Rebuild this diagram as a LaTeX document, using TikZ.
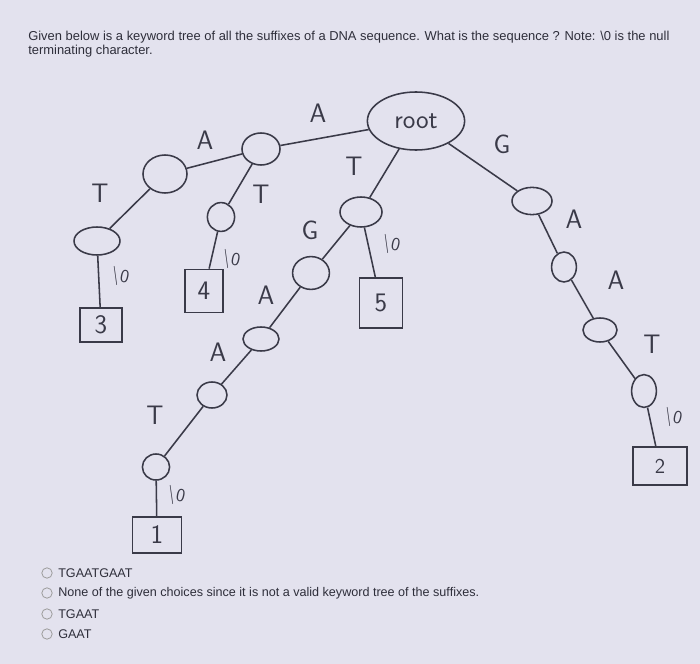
\documentclass[tikz,border=0pt]{standalone}
\usepackage{fontspec}
\newfontfamily\quizfont{Liberation Sans}
\usetikzlibrary{shapes.geometric}
\definecolor{bildschirm}{HTML}{E3E2EE}
\definecolor{stift}{HTML}{3A3A48}
\definecolor{schrift}{HTML}{2E2E3A}

\begin{document}
\begin{tikzpicture}[x=0.025cm, y=-0.025cm]

    % --- Grundeinstellungen für Styles ---
    \tikzset{
        knoten/.style={draw=stift, ellipse, line width=1.1pt, inner sep=0pt},
        blatt/.style={draw=stift, line width=1.1pt, inner sep=0pt, font=\sffamily\fontsize{19}{19}\selectfont, text=stift},
        kante/.style={draw=stift, line width=1.1pt},
        buchstabe/.style={font=\sffamily\fontsize{19}{19}\selectfont, text=stift},
        ende/.style={font=\sffamily\fontsize{13}{13}\selectfont, text=stift, rotate=-12, inner sep=0pt},
        frage/.style={font=\quizfont\fontsize{9.2}{10}\selectfont, text=schrift, anchor=west, inner sep=0pt},
        antwort/.style={frage, font=\quizfont\fontsize{8.95}{10}\selectfont},
        auswahl/.style={draw=gray!75, circle, line width=0.6pt, minimum size=0.26cm, inner sep=0pt}
    }

    % Hintergrund (Bildschirm)
    \fill[bildschirm] (0,0) rectangle (700,664);

    % --- 1. Fragetext ---
    \node[frage] (zeile1) at (28,37) {Given below is a keyword tree of all the suffixes of a DNA sequence. What is the sequence ? Note: \textbackslash0 is the null};
    \node[frage] (zeile2) at (28,51) {terminating character.};

    % --- 2. Knoten des Baums ---
    \node[knoten, minimum width=2.43cm, minimum height=1.45cm, font=\sffamily\fontsize{19}{19}\selectfont, text=stift] (root) at (416,121) {root};

    % Zweig A
    \node[knoten, minimum width=0.95cm, minimum height=0.8cm] (nA) at (261,149) {};
    \node[knoten, minimum width=1.1cm, minimum height=0.95cm] (nAA) at (165,174) {};
    \node[knoten, minimum width=1.15cm, minimum height=0.7cm] (nAAT) at (97,241) {};
    \node[knoten, minimum width=0.68cm, minimum height=0.72cm] (nAT) at (221,217) {};

    % Zweig T
    \node[knoten, minimum width=1.05cm, minimum height=0.75cm] (nT) at (361,212) {};
    \node[knoten, minimum width=0.92cm, minimum height=0.82cm] (nTG) at (311,273) {};
    \node[knoten, minimum width=0.9cm, minimum height=0.6cm] (nTGA) at (261,339) {};
    \node[knoten, minimum width=0.75cm, minimum height=0.65cm] (nTGAA) at (212,395) {};
    \node[knoten, minimum width=0.68cm, minimum height=0.65cm] (nTGAAT) at (156,467) {};

    % Zweig G
    \node[knoten, minimum width=1.0cm, minimum height=0.68cm] (nG) at (532,201) {};
    \node[knoten, minimum width=0.62cm, minimum height=0.75cm] (nGA) at (564,267) {};
    \node[knoten, minimum width=0.85cm, minimum height=0.6cm] (nGAA) at (600,330) {};
    \node[knoten, minimum width=0.62cm, minimum height=0.82cm] (nGAAT) at (644,391) {};

    % Blätter (Suffix-Nummern)
    \node[blatt, minimum width=1.05cm, minimum height=0.85cm] (b3) at (101,325) {3};
    \node[blatt, minimum width=0.95cm, minimum height=1.08cm] (b4) at (204,291) {4};
    \node[blatt, minimum width=1.08cm, minimum height=1.25cm] (b5) at (381,303) {5};
    \node[blatt, minimum width=1.22cm, minimum height=0.9cm] (b1) at (157,535) {1};
    \node[blatt, minimum width=1.35cm, minimum height=0.95cm, font=\sffamily\fontsize{15}{15}\selectfont] (b2) at (660,466) {2};

    % --- 3. Kanten ---
    \draw[kante] (root) -- (nA);
    \draw[kante] (nA) -- (nAA);
    \draw[kante] (nAA) -- (nAAT);
    \draw[kante] (nAAT) -- (b3);
    \draw[kante] (nA) -- (nAT);
    \draw[kante] (nAT) -- (b4);
    \draw[kante] (root) -- (nT);
    \draw[kante] (nT) -- (b5);
    \draw[kante] (nT) -- (nTG);
    \draw[kante] (nTG) -- (nTGA);
    \draw[kante] (nTGA) -- (nTGAA);
    \draw[kante] (nTGAA) -- (nTGAAT);
    \draw[kante] (nTGAAT) -- (b1);
    \draw[kante] (root) -- (nG);
    \draw[kante] (nG) -- (nGA);
    \draw[kante] (nGA) -- (nGAA);
    \draw[kante] (nGAA) -- (nGAAT);
    \draw[kante] (nGAAT) -- (b2);

    % --- 4. Kantenbeschriftungen ---
    \node[buchstabe] (lA1) at (318,113) {A};
    \node[buchstabe] (lA2) at (205,140) {A};
    \node[buchstabe] (lT1) at (100,193) {T};
    \node[ende] (le3) at (120,277) {\textbackslash0};
    \node[buchstabe] (lT2) at (261,194) {T};
    \node[ende] (le4) at (231,260) {\textbackslash0};
    \node[buchstabe] (lT3) at (354,166) {T};
    \node[ende] (le5) at (391,245) {\textbackslash0};
    \node[buchstabe] (lG1) at (310,230) {G};
    \node[buchstabe] (lA3) at (266,295) {A};
    \node[buchstabe] (lA4) at (218,352) {A};
    \node[buchstabe] (lT4) at (155,415) {T};
    \node[ende] (le1) at (176,496) {\textbackslash0};
    \node[buchstabe] (lG2) at (502,144) {G};
    \node[buchstabe] (lA5) at (574,219) {A};
    \node[buchstabe] (lA6) at (616,280) {A};
    \node[buchstabe] (lT5) at (652,344) {T};
    \node[ende] (le2) at (673,418) {\textbackslash0};

    % --- 5. Antwortmöglichkeiten ---
    \node[auswahl] (o1) at (47,573) {};
    \node[auswahl] (o2) at (47,593) {};
    \node[auswahl] (o3) at (47,614) {};
    \node[auswahl] (o4) at (47,634) {};
    \node[antwort] (t1) at (58,573) {TGAATGAAT};
    \node[antwort] (t2) at (58,593) {None of the given choices since it is not a valid keyword tree of the suffixes.};
    \node[antwort] (t3) at (58,614) {TGAAT};
    \node[antwort] (t4) at (58,634) {GAAT};

\end{tikzpicture}
\end{document}
